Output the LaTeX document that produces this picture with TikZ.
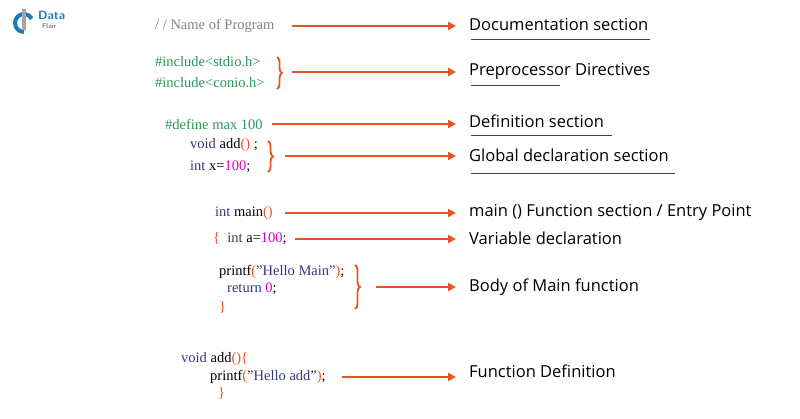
\documentclass[tikz,border=0pt]{standalone}
\usepackage{fontspec}
\setmainfont{Liberation Serif}
\newfontfamily\lab{Open Sans}
\usetikzlibrary{arrows.meta,decorations.pathreplacing}
\definecolor{arr}{RGB}{232,84,40}
\definecolor{cgreen}{RGB}{40,150,90}
\definecolor{cnavy}{RGB}{55,55,120}
\definecolor{cmag}{RGB}{220,0,200}
\definecolor{cgray}{RGB}{130,130,130}
\definecolor{logob}{RGB}{30,120,190}
\newcommand{\kw}[1]{\textcolor{cnavy}{#1}}
\newcommand{\nm}[1]{\textcolor{cmag}{#1}}
\newcommand{\br}[1]{\textcolor{arr}{#1}}
\tikzset{
 code/.style={anchor=west,inner sep=0pt,font=\fontsize{14.5}{14.5}\selectfont},
 label/.style={anchor=west,inner sep=0pt,font=\lab\fontsize{16.5}{17}\selectfont},
 conn/.style={draw=arr,line width=2.6pt,-{Triangle[length=8pt,width=8pt]}},
 brc/.style={draw=arr,line width=1.8pt,decorate,decoration={brace,amplitude=5pt}},
 uline/.style={draw=black!75,line width=0.7pt}
}
\begin{document}
\begin{tikzpicture}[x=1pt,y=-1pt]
\useasboundingbox (0,0) rectangle (800,418);
% logo
\draw[logob,line width=4pt] (24,32) arc (90:330:9);
\draw[gray!70,line width=4pt] (24,9) -- (24,30);
\node[anchor=west,inner sep=0pt,font=\sffamily\bfseries\fontsize{12}{12}\selectfont,text=logob] (logo) at (38,15) {Data};
\node[anchor=west,inner sep=0pt,font=\sffamily\bfseries\fontsize{7}{7}\selectfont,text=gray] (logo2) at (42,26) {Flair};
% code
\node[code,text=cgray] (c1) at (155,26) {/ / Name of Program};
\node[code,text=cgreen] (c2) at (155,62) {\#include<stdio.h>};
\node[code,text=cgreen] (c3) at (155,83) {\#include<conio.h>};
\node[code,text=cgreen] (c4) at (165,124) {\#define max 100};
\node[code] (c5) at (190,145) {\kw{void} add\br{()} ;};
\node[code] (c6) at (190,167) {\kw{int} x=\nm{100};};
\node[code] (c7) at (215,213) {\kw{int} main\br{()}};
\node[code] (c8) at (213,239) {\br{\{}\ \ \kw{int} a=\nm{100};};
\node[code] (c9) at (219,272) {printf\br{(}\kw{"Hello Main"}\br{)};};
\node[code] (c10) at (227,289) {\kw{return} \nm{0};};
\node[code] (c11) at (219,307) {\br{\}}};
\node[code] (c12) at (181,359) {\kw{void} add\br{()\{}};
\node[code] (c13) at (210,377) {printf\br{(}\kw{"Hello add"}\br{)};};
\node[code] (c14) at (218,393) {\br{\}}};
% braces
\draw[brc] (277,57) -- (277,89);
\draw[brc] (268,141) -- (268,172);
\draw[brc] (355,265) -- (355,309);
% labels
\node[label] (l1) at (469,25) {Documentation section};
\node[label] (l2) at (469,71) {Preprocessor Directives};
\node[label] (l3) at (469,121) {Definition section};
\node[label] (l4) at (469,155) {Global declaration section};
\node[label] (l5) at (469,212) {main () Function section / Entry Point};
\node[label] (l6) at (469,238) {Variable declaration};
\node[label] (l7) at (469,287) {Body of Main function};
\node[label] (l8) at (469,371) {Function Definition};
\draw[uline] (471,39) -- (650,39);
\draw[uline] (471,85) -- (560,85);
\draw[uline] (471,135) -- (612,135);
\draw[uline] (471,173) -- (675,173);
% arrows
\coordinate (s1) at (292,26); \coordinate (s2) at (292,72); \coordinate (s3) at (272,124);
\coordinate (s4) at (285,156); \coordinate (s5) at (285,213); \coordinate (s6) at (295,239);
\coordinate (s7) at (376,287); \coordinate (s8) at (342,377);
\foreach \i/\y in {1/26,2/72,3/124,4/156,5/213,6/239,7/287,8/377}
  \draw[conn] (s\i) -- (456,\y);
\end{tikzpicture}
\end{document}
